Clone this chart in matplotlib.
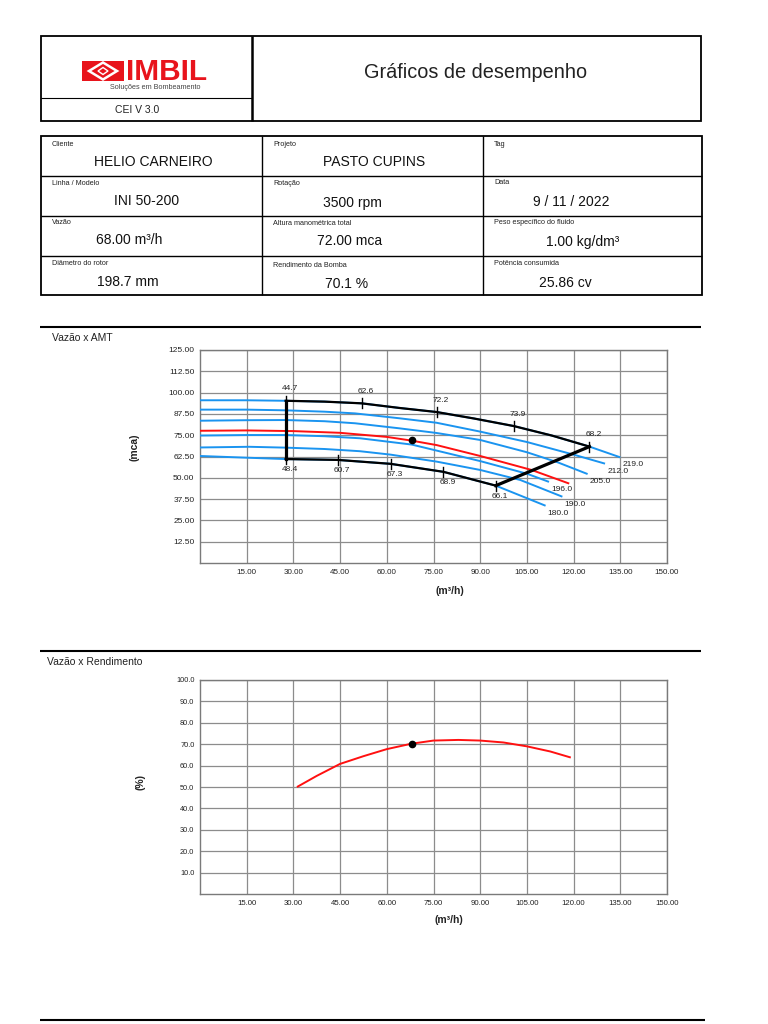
import matplotlib
matplotlib.use("Agg")
import matplotlib.pyplot as plt
import numpy as np
from matplotlib.patches import Rectangle, Polygon

plt.rcParams['font.family'] = ['Liberation Sans', 'DejaVu Sans']

# ---------------- data ----------------
title_text = "Gráficos de desempenho"
version_text = "CEI V 3.0"
logo_text = "IMBIL"
logo_sub = "Soluções em Bombeamento"

table_labels = [["Cliente", "Projeto", "Tag"],
                ["Linha / Modelo", "Rotação", "Data"],
                ["Vazão", "Altura manométrica total", "Peso específico do fluido"],
                ["Diâmetro do rotor", "Rendimento da Bomba", "Potência consumida"]]
table_values = [["HELIO CARNEIRO", "PASTO CUPINS", ""],
                ["INI 50-200", "3500 rpm", "9 / 11 / 2022"],
                ["68.00 m³/h", "72.00 mca", "1.00 kg/dm³"],
                ["198.7 mm", "70.1 %", "25.86 cv"]]

# head curves (Q m3/h, H mca) per impeller diameter
q_219 = [0, 15, 27.5, 40, 51.9, 64, 76.0, 88, 100.7, 113, 125.1, 135]
h_219 = [95.5, 95.5, 95.2, 94.7, 93.7, 91.0, 88.6, 84.8, 80.4, 74.8, 68.3, 62.0]
q_212 = [0, 15, 27.5, 40, 49.8, 64.2, 76, 90, 105, 120, 130.1]
h_212 = [90.0, 90.0, 89.6, 88.8, 87.8, 84.9, 82.3, 77.1, 71.0, 63.6, 58.3]
q_205 = [0, 15, 27.5, 40, 49.8, 64.2, 76, 90, 105, 115, 124.5]
h_205 = [83.5, 83.8, 83.9, 83.2, 82.0, 79.0, 76.3, 72.2, 65.0, 59.0, 52.2]
q_198 = [0, 15, 30, 45, 60, 68, 76, 90, 106.5, 118.3]
h_198 = [77.6, 77.8, 77.4, 76.4, 74.0, 71.8, 69.2, 62.8, 54.6, 46.8]
q_196 = [0, 15, 27.5, 40, 51.4, 68, 90, 105, 112.1]
h_196 = [74.8, 75.1, 75.1, 74.4, 73.2, 69.5, 59.8, 52.4, 47.6]
q_190 = [0, 15.8, 27.5, 40, 51.4, 61.2, 76, 90, 102.9, 116.4]
h_190 = [67.8, 68.2, 67.7, 66.9, 65.6, 63.6, 59.5, 54.6, 48.7, 38.9]
q_180 = [0, 15, 27.5, 44.2, 61.2, 78.2, 95.0, 111]
h_180 = [62.8, 61.8, 61.0, 60.5, 58.2, 53.5, 45.4, 33.6]

blue_curves = [(q_219, h_219, "219.0"), (q_212, h_212, "212.0"), (q_205, h_205, "205.0"),
               (q_196, h_196, "196.0"), (q_190, h_190, "190.0"), (q_180, h_180, "180.0")]

q_min_flow = 27.5
q_max_flow_low = 95.0
q_max_flow_high = 125.1

eff_top_q = [27.5, 51.9, 76.0, 100.7, 125.1]
eff_top_lbl = ["44.7", "62.6", "72.2", "73.9", "68.2"]
eff_bot_q = [27.5, 44.2, 61.2, 78.2, 95.0]
eff_bot_lbl = ["48.4", "60.7", "67.3", "68.9", "66.1"]

op_q, op_h, op_eff = 68.0, 72.0, 70.1

# efficiency curve
q_eff = [31.4, 37.5, 45, 52.5, 60, 67.8, 75, 83, 90, 97.5, 105, 112.5, 118.8]
eff = [50.2, 55.2, 60.8, 64.4, 67.7, 70.2, 71.7, 72.0, 71.7, 70.8, 69.0, 66.6, 63.9]

x_ticks = [15, 30, 45, 60, 75, 90, 105, 120, 135, 150]
y_ticks_h = [12.5, 25, 37.5, 50, 62.5, 75, 87.5, 100, 112.5, 125]
y_ticks_e = [10, 20, 30, 40, 50, 60, 70, 80, 90, 100]

# ---------------- figure ----------------
W, H = 768, 1024
fig = plt.figure(figsize=(7.68, 10.24), dpi=100)
bg = fig.add_axes([0, 0, 1, 1])
bg.set_xlim(0, W)
bg.set_ylim(H, 0)
bg.axis('off')

def line(x0, y0, x1, y1, lw=1.0, c='black'):
    bg.plot([x0, x1], [y0, y1], color=c, lw=lw, solid_capstyle='butt')

# header box
bg.add_patch(Rectangle((41, 36), 660, 85, fill=False, lw=1.3, ec='black'))
line(252, 36, 252, 121, lw=1.8)
line(41, 97.5, 252, 97.5, lw=0.8)
bg.text(476, 73, title_text, fontsize=14.3, ha='center', va='center', color='#222')
bg.text(137, 110, version_text, fontsize=7.5, ha='center', va='center', color='#222')

# logo
red = '#e8141c'
bg.add_patch(Rectangle((82, 61), 42, 20, color=red, lw=0))
bg.add_patch(Polygon([(89, 71), (103, 62.5), (117, 71), (103, 79.5)], closed=True,
                     fill=False, ec='white', lw=1.8))
bg.add_patch(Polygon([(98, 71), (103, 67.5), (108, 71), (103, 74.5)], closed=True,
                     fc=red, ec='white', lw=1.0))
bg.text(126, 71.5, logo_text, fontsize=21.5, fontweight='bold', color=red,
        ha='left', va='center')
bg.text(155, 87.5, logo_sub, fontsize=5.2, color='#444', ha='center', va='center')

# info table
tx0, tx1 = 41, 702
col_x = [41, 262, 483, 702]
row_y = [136, 175.5, 215.5, 255.5, 295]
bg.add_patch(Rectangle((tx0, row_y[0]), tx1 - tx0, row_y[-1] - row_y[0], fill=False, lw=1.3, ec='black'))
for cx in col_x[1:-1]:
    line(cx, row_y[0], cx, row_y[-1], lw=1.0)
for ry in row_y[1:-1]:
    line(tx0, ry, tx1, ry, lw=1.0)

val_x = [[153, 374, 592], [147, 352, 571], [129, 350, 583], [128, 347, 565]]
val_y = [[162, 162, 162], [201, 203, 202], [240, 241, 242], [282, 284, 283]]
lbl_dy = [[8, 8, 8], [8, 8, 7], [7, 8, 7], [8, 10, 8]]
for r in range(4):
    for c in range(3):
        bg.text(col_x[c] + 11, row_y[r] + lbl_dy[r][c], table_labels[r][c], fontsize=5.2,
                ha='left', va='center', color='#222')
        if table_values[r][c]:
            bg.text(val_x[r][c], val_y[r][c], table_values[r][c], fontsize=10,
                    ha='center', va='center', color='#111')

# section separators
line(40, 327, 701, 327, lw=1.5)
line(40, 651, 701, 651, lw=1.5)
line(40, 1020, 705, 1020, lw=1.5)
bg.text(52, 338, "Vazão x AMT", fontsize=7.5, ha='left', va='center', color='#222')
bg.text(47, 662, "Vazão x Rendimento", fontsize=7.5, ha='left', va='center', color='#222')

grid_c = '#8c8c8c'
spine_c = '#7a7a7a'
blue = '#1a94f0'
redc = '#ff1010'

def style_axes(ax, yt, yfmt, xfs, yfs):
    ax.set_xlim(0, 150)
    ax.set_xticks(x_ticks)
    ax.set_xticklabels(["%.2f" % v for v in x_ticks], fontsize=xfs, color='#222')
    ax.set_yticks(yt)
    ax.set_yticklabels([yfmt % v for v in yt], fontsize=yfs, color='#222')
    ax.tick_params(length=0, pad=4)
    ax.grid(True, color=grid_c, lw=0.9)
    ax.set_axisbelow(True)
    for s in ax.spines.values():
        s.set_color(spine_c)
        s.set_linewidth(1.0)

# ---------- head chart ----------
ax1 = fig.add_axes([200 / W, 1 - 563 / H, 467 / W, 213 / H])
ax1.set_ylim(0, 125)
style_axes(ax1, y_ticks_h, "%.2f", 5.8, 6.0)

for q, h, lbl in blue_curves:
    ax1.plot(q, h, color=blue, lw=1.4, solid_capstyle='butt', zorder=3)
    ax1.annotate(lbl, (q[-1], h[-1]), xytext=(1.5, -5.5), textcoords='offset points',
                 fontsize=6, ha='left', va='center', color='#222', zorder=6)
ax1.plot(q_198, h_198, color=redc, lw=1.4, zorder=4)

# operating window (black)
q219a = np.array(q_219); h219a = np.array(h_219)
q180a = np.array(q_180); h180a = np.array(h_180)
m_top = (q219a >= q_min_flow) & (q219a <= q_max_flow_high)
m_bot = (q180a >= q_min_flow) & (q180a <= q_max_flow_low)
ax1.plot(q219a[m_top], h219a[m_top], color='black', lw=1.6, zorder=5)
ax1.plot(q180a[m_bot], h180a[m_bot], color='black', lw=1.6, zorder=5)
ax1.plot([q_min_flow, q_min_flow],
         [np.interp(q_min_flow, q_180, h_180), np.interp(q_min_flow, q_219, h_219)],
         color='black', lw=2.3, zorder=5)
ax1.plot([q_max_flow_low, q_max_flow_high],
         [np.interp(q_max_flow_low, q_180, h_180), np.interp(q_max_flow_high, q_219, h_219)],
         color='black', lw=2.3, zorder=5)

dh = 3.0
for q, lbl in zip(eff_top_q, eff_top_lbl):
    y = np.interp(q, q_219, h_219)
    ax1.plot([q, q], [y - dh, y + dh], color='black', lw=1.0, zorder=5)
    ax1.annotate(lbl, (q, y), xytext=(3.2, 8.5), textcoords='offset points',
                 fontsize=6, ha='center', va='center', color='#222')
for q, lbl in zip(eff_bot_q, eff_bot_lbl):
    y = np.interp(q, q_180, h_180)
    ax1.plot([q, q], [y - dh, y + dh], color='black', lw=1.0, zorder=5)
    ax1.annotate(lbl, (q, y), xytext=(3.2, -7.5), textcoords='offset points',
                 fontsize=6, ha='center', va='center', color='#222')

ax1.plot([op_q], [op_h], 'o', color='black', ms=4.5, zorder=7)

fig.text(135 / W, 1 - 447 / H, "(mca)", rotation=90, fontsize=7.5, fontweight='bold',
         ha='center', va='center', color='#222')
fig.text(450 / W, 1 - 591 / H, "(m³/h)", fontsize=7.5, fontweight='bold',
         ha='center', va='center', color='#222')

# ---------- efficiency chart ----------
ax2 = fig.add_axes([200 / W, 1 - 894 / H, 467 / W, 214 / H])
ax2.set_ylim(0, 100)
style_axes(ax2, y_ticks_e, "%.1f", 5.6, 5.3)
ax2.plot(q_eff, eff, color=redc, lw=1.4, zorder=3)
ax2.plot([op_q], [op_eff], 'o', color='black', ms=4.5, zorder=5)

fig.text(141 / W, 1 - 782 / H, "(%)", rotation=90, fontsize=7.5, fontweight='bold',
         ha='center', va='center', color='#222')
fig.text(449 / W, 1 - 920 / H, "(m³/h)", fontsize=7.5, fontweight='bold',
         ha='center', va='center', color='#222')

fig.savefig("out.png", dpi=100)
